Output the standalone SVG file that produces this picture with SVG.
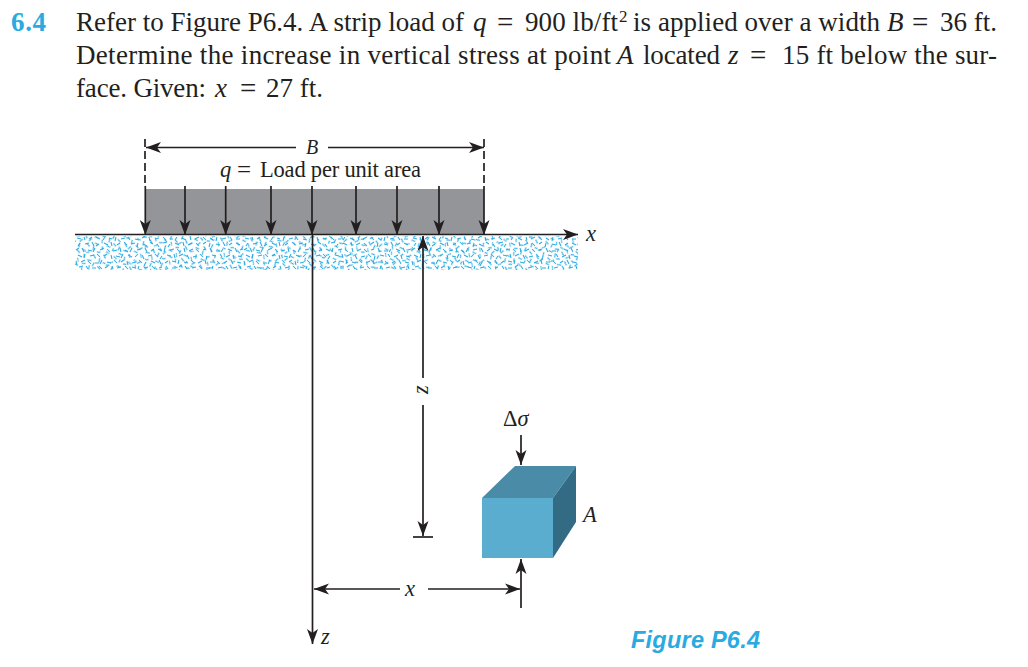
<svg xmlns="http://www.w3.org/2000/svg" width="1028" height="667" viewBox="0 0 1028 667">
<style>
text{font-family:"Liberation Serif","Times New Roman",serif;fill:#231f20}
.b{font-size:27px}
.e{font-size:29px}
.l{font-size:22.500px}
.i{font-style:italic}
.c{stroke:#231f20;stroke-width:1.700;fill:none}
.a{marker-end:url(#h)}
.d{stroke:#29abe2;stroke-width:1.050;fill:none}
</style>
<defs>
<marker id="h" markerUnits="userSpaceOnUse" markerWidth="17" markerHeight="14" refX="15" refY="7" orient="auto"><path d="M0,1.500L15,7L0,12.500L4,7Z" fill="#231f20"/></marker>
<pattern id="sp" patternUnits="userSpaceOnUse" x="75" y="236" width="168" height="34">
<path class="d" d="M2,2l4,1M9,1l1,3M14,3l3-2M21,1l4,2M28,4l2-3M34,2l3,1M41,1l-1,4M46,3l4-1M53,1l2,3M60,3l4,1M67,2l3-2M74,1l1,4M80,3l4-1M88,1l3,3M95,3l3,0M102,1l-2,3M107,2l4,2M115,1l1,3M120,3l4-2M128,1l3,3M135,2l3,2M142,1l-1,4M147,3l4-1M155,1l2,3M161,3l4,0M5,7l-2,3M10,8l4-1M17,6l2,4M24,8l-3,2M29,7l4,2M36,6l1,4M42,9l3-2M49,6l3,3M56,8l4-1M63,7l-1,4M68,8l4,2M75,6l3,2M82,8l2,3M88,7l4-1M95,8l-2,3M100,7l4,2M108,6l1,4M113,9l4-2M121,7l3,3M128,8l3-2M135,7l-1,4M141,8l4,1M148,6l2,4M154,9l3-2M161,7l4,2M1,14l3-2M7,12l2,4M13,14l4,1M20,12l-2,4M25,14l4-2M32,13l3,3M38,15l4-1M45,12l1,4M50,14l3,2M57,12l-2,4M62,14l4-1M70,12l2,4M76,15l3-2M83,13l4,2M90,12l-1,4M95,14l4-1M102,13l3,3M109,12l1,4M114,15l4-2M121,13l3,3M128,14l3-1M135,12l2,4M141,15l4,0M148,13l-2,3M153,13l4,2M160,12l2,4M165,14l3-1M3,19l4,2M10,18l-1,4M15,20l4-1M22,18l3,3M29,20l3-2M36,19l1,4M41,20l4,1M48,18l-2,4M53,19l4,2M60,21l3-3M67,19l2,4M73,20l4-1M80,18l3,3M87,20l-2,3M92,19l4,1M99,18l1,4M104,20l4-2M112,19l2,4M118,21l4-1M125,18l3,3M132,20l-1,4M137,19l4,1M145,18l2,3M151,21l4-2M158,19l1,4M163,20l4,1M1,25l1,4M6,26l4-2M13,25l3,3M20,27l4,0M27,24l-2,4M32,26l4,1M39,24l3,3M46,26l3-2M52,25l1,4M57,27l4-1M64,24l3,3M71,26l-2,4M76,25l4,2M84,24l2,4M90,27l3-2M97,25l4,1M104,24l-1,4M109,26l4,1M116,24l3,3M123,27l4-2M130,24l1,4M135,26l4,0M142,25l3,3M149,27l3-2M156,24l2,4M162,26l4,1M4,31l4-1M11,30l2,3M17,32l4,0M24,30l3,3M30,32l3-2M37,30l1,3M42,32l4-1M50,30l3,3M57,31l4,1M64,30l-1,3M69,32l4-1M77,30l3,3M84,32l3-1M91,30l2,3M97,32l4,0M104,31l3-2M110,30l2,3M117,32l4-1M124,30l3,3M131,32l4,0M138,30l-1,3M143,32l4-1M151,30l2,3M158,32l4-1M165,30l1,3"/>
</pattern>
<pattern id="sp2" href="#sp" patternTransform="rotate(37)"/>
</defs>
<g id="problem-text">
<text x="11" y="31" class="b" font-weight="bold" style="fill:#29abe2" textLength="35">6.4</text>
<text x="76" y="31" class="b" textLength="388">Refer to Figure P6.4. A strip load of</text>
<text x="473" y="31" class="b i">q</text><text x="497" y="32" class="e">=</text>
<text x="525" y="31" class="b" textLength="93">900 lb/ft</text><text x="619" y="22" font-size="17">2</text>
<text x="633" y="31" class="b" textLength="247">is applied over a width</text>
<text x="887" y="31" class="b i">B</text><text x="912" y="32" class="e">=</text>
<text x="940" y="31" class="b" textLength="57">36 ft.</text>
<text x="76" y="64" class="b" textLength="535">Determine the increase in vertical stress at point</text>
<text x="617" y="64" class="b i">A</text>
<text x="643" y="64" class="b" textLength="77">located</text>
<text x="728" y="64" class="b i">z</text><text x="750" y="65" class="e">=</text>
<text x="782" y="64" class="b" textLength="215">15 ft below the sur-</text>
<text x="76" y="97" class="b" textLength="130">face. Given:</text>
<text x="215" y="97" class="b i">x</text><text x="240" y="98" class="e">=</text>
<text x="266" y="97" class="b" textLength="57">27 ft.</text>
</g>
<g id="soil"><rect x="75" y="236" width="503" height="34" fill="url(#sp)"/><rect x="75" y="236" width="503" height="34" fill="url(#sp2)"/></g>
<g id="load-strip"><rect x="145" y="189" width="339" height="46" fill="#939598"/></g>
<g id="block-A">
<path d="M482,498L515,466H576L553,498Z" fill="#4a8ba8"/>
<path d="M553,498L576,466V522L553,558Z" fill="#336b85"/>
<rect x="482" y="498" width="71" height="60" fill="#5badd0"/>
</g>
<g id="connectors">
<path class="c" d="M145,139V186M484,139V186" stroke-dasharray="8 4"/>
<path class="c a" d="M296,147.500H146"/>
<path class="c a" d="M328,147.500H484"/>
<path class="c a" d="M145.300,186V235"/><path class="c a" d="M185,186V235"/><path class="c a" d="M225.700,186V235"/><path class="c a" d="M271,186V235"/><path class="c a" d="M312,186V235"/><path class="c a" d="M356,186V235"/><path class="c a" d="M397,186V235"/><path class="c a" d="M439,186V235"/><path class="c a" d="M484,186V235"/>
<path class="c a" d="M75,234.500H578"/>
<path class="c a" d="M312.500,235V644"/>
<path class="c a" d="M423,378V236"/>
<path class="c a" d="M423,405V536"/>
<path class="c" d="M413,537H433"/>
<path class="c a" d="M400,589H314"/>
<path class="c a" d="M428,589H520"/>
<path class="c a" d="M521,608V559"/>
<path class="c a" d="M521,435V465"/>
</g>
<g id="labels">
<text x="306" y="154" font-size="20" class="i">B</text>
<text x="220" y="177" class="l i">q</text>
<text x="237" y="178" font-size="25">=</text>
<text x="260" y="177" class="l" textLength="161">Load per unit area</text>
<text x="586" y="241" class="l i">x</text>
<text x="428" y="394" class="l i" transform="rotate(-90 428 394)">z</text>
<text x="405" y="596" class="l i">x</text>
<text x="321" y="644" class="l i">z</text>
<text x="503" y="426" class="l">Δ<tspan class="i">σ</tspan></text>
<text x="583" y="522" class="l i">A</text>
<text x="631" y="648" style="font-family:'Liberation Sans',Arial,sans-serif;fill:#29abe2" font-size="23.500" font-weight="bold" font-style="italic" textLength="129">Figure P6.4</text>
</g>
</svg>
